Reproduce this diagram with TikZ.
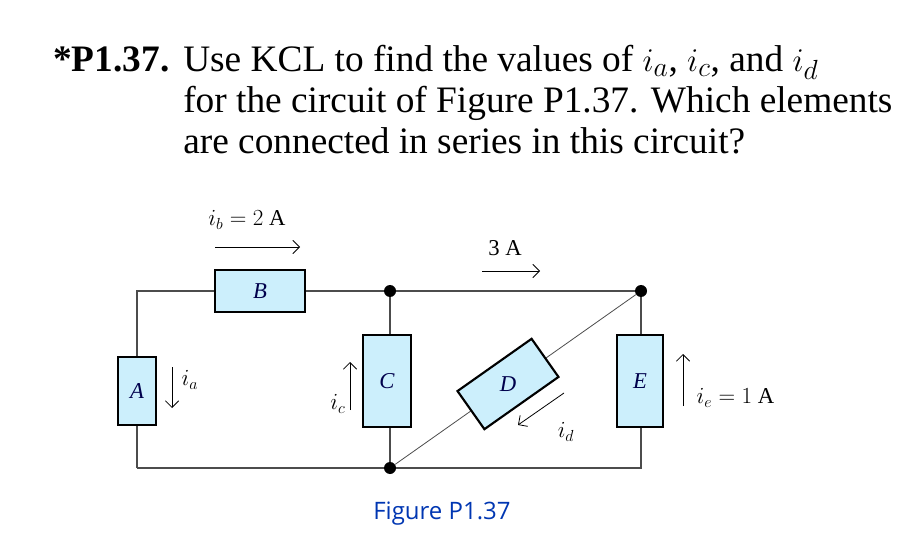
\documentclass[tikz,border=0pt]{standalone}
\usepackage{fontspec}
\usetikzlibrary{arrows.meta}
\setmainfont{Liberation Serif}
\newfontfamily\figfont{Open Sans}
\begin{document}
\begin{tikzpicture}[x=0.75pt,y=-0.75pt,
  elem/.style={draw=black,line width=1.6pt,fill=cyan!20!white,inner sep=0pt},
  wire/.style={draw=black!70,line width=0.9pt},
  dot/.style={circle,fill=black,inner sep=0pt,minimum size=9pt},
  lbl/.style={font=\fontsize{17}{20}\selectfont\itshape,text=blue!30!black},
  clbl/.style={font=\fontsize{17}{20}\selectfont,text=black},
  cur/.style={-{Straight Barb[length=5pt]},line width=0.6pt},
  txt/.style={font=\fontsize{28}{31}\selectfont,anchor=base west,inner sep=0pt}]
\useasboundingbox (0,0) rectangle (921,545);
\node[txt,font=\fontsize{28}{31}\selectfont\bfseries] (p) at (53,72) {*P1.37.};
\node[txt] (l1) at (183,72) {Use KCL to find the values of $i_a$, $i_c$, and $i_d$};
\node[txt] (l2) at (183,113) {for the circuit of Figure P1.37. Which elements};
\node[txt] (l3) at (183,154) {are connected in series in this circuit?};
\coordinate (tl) at (137,291); \coordinate (bl) at (137,468);
\node[dot] (n1) at (390,291) {}; \node[dot] (n2) at (641,291) {}; \node[dot] (n3) at (390,468) {};
\coordinate (br) at (641,468);
\draw[wire] (bl) -- (tl) -- (n1) -- (n2) -- (br) -- (n3) -- (bl);
\draw[wire] (n1) -- (n3);
\draw[wire,line width=0.6pt] (n3) -- (n2);
\node[elem,minimum width=29pt,minimum height=51pt] (A) at (137,391) {};
\node[lbl] at (A) {A};
\node[elem,minimum width=68pt,minimum height=31pt] (B) at (260,291) {};
\node[lbl] at (B) {B};
\node[elem,minimum width=36pt,minimum height=69pt] (C) at (387,381) {};
\node[lbl] at (C) {C};
\node[elem,minimum width=35pt,minimum height=69pt] (E) at (640,381) {};
\node[lbl] at (E) {E};
\node[elem,minimum width=68pt,minimum height=35pt,rotate=35.2] (D) at (508,384) {};
\node[lbl] at (D) {D};
\draw[cur] (215,247) -- (300,247);
\node[clbl] (ib) at (247,220) {$i_b = 2$ A};
\draw[cur] (482,271) -- (540,271);
\node[clbl] (tA) at (505,248) {3 A};
\draw[cur] (172,367) -- (172,408);
\node[clbl] at (190,380) {$i_a$};
\draw[cur] (350,410) -- (350,362);
\node[clbl] at (338,404) {$i_c$};
\draw[cur] (564,393) -- (518,425);
\node[clbl] at (566,432) {$i_d$};
\draw[cur] (683,406) -- (683,354);
\node[clbl,anchor=west] at (692,398) {$i_e = 1$ A};
\node[font=\figfont\fontsize{18}{20}\selectfont,text=blue!70!cyan!70!black] (fig) at (442,514) {Figure P1.37};
\end{tikzpicture}
\end{document}
